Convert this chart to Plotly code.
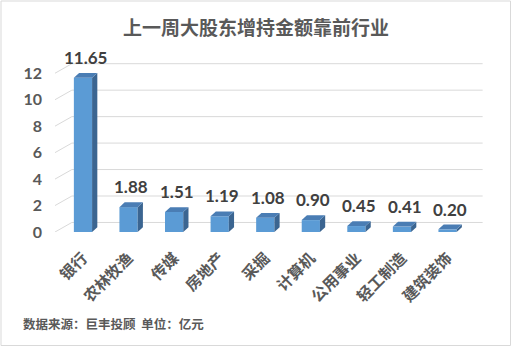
import plotly.graph_objects as go

categories = ["银行", "农林牧渔", "传媒", "房地产", "采掘", "计算机", "公用事业", "轻工制造", "建筑装饰"]
values = [11.65, 1.88, 1.51, 1.19, 1.08, 0.90, 0.45, 0.41, 0.20]
y_ticks = [0, 2, 4, 6, 8, 10, 12]
title_text = "上一周大股东增持金额靠前行业"
footer_text = "数据来源：巨丰投顾  单位：亿元"

FRONT = "#5B9BD5"
SIDE = "#3B6591"
TOP = "#4A7DB4"
GRID = "#D9D9D9"
TXT = "#595959"
FONT = "Lato, Noto Sans CJK SC, sans-serif"
CJK = "Noto Sans CJK SC, sans-serif"

WID, HEI = 512, 347
L, R, T, B = 55, 512 - 484, 60, 347 - 232
PW, PH = WID - L - R, HEI - T - B


def px_x(px):
    return (px - L) / PW


def px_y(py):
    return (HEI - B - py) / PH


W = 0.4          # bar width (category units)
DX = 0.115       # bar depth in x (category units)
DY = 0.36        # bar depth in y (value units)
WX = 0.37        # back wall offset in x
WY = 0.72        # back wall offset in y
X0, X1 = -0.614, 8.4
Y0, Y1 = 0, 13

xs = list(range(len(categories)))
fig = go.Figure()

# back-wall gridlines and side-wall diagonals
shapes = []
for v in y_ticks:
    shapes.append(dict(type="line", xref="x", yref="y", x0=X0 + WX, x1=X1 + WX,
                       y0=v + WY, y1=v + WY, line=dict(color=GRID, width=1), layer="below"))
    shapes.append(dict(type="line", xref="x", yref="y", x0=X0, x1=X0 + WX,
                       y0=v, y1=v + WY, line=dict(color=GRID, width=1), layer="below"))
shapes.append(dict(type="rect", xref="paper", yref="paper",
                   x0=px_x(1), x1=px_x(510.5), y0=px_y(345.5), y1=px_y(1),
                   line=dict(color="#D9D9D9", width=1)))

# front faces
fig.add_trace(go.Bar(x=xs, y=values, width=W, marker=dict(color=FRONT, line=dict(width=0)),
                     hoverinfo="skip"))

# side and top faces
for x, v in zip(xs, values):
    r = x + W / 2
    l = x - W / 2
    fig.add_trace(go.Scatter(x=[r, r + DX, r + DX, r, r], y=[0, DY, v + DY, v, 0],
                             mode="lines", fill="toself", fillcolor=SIDE,
                             line=dict(width=0, color=SIDE), hoverinfo="skip"))
    fig.add_trace(go.Scatter(x=[l, l + DX, r + DX, r, l], y=[v, v + DY, v + DY, v, v],
                             mode="lines", fill="toself", fillcolor=TOP,
                             line=dict(width=0, color=TOP), hoverinfo="skip"))

annotations = []
for x, v in zip(xs, values):
    annotations.append(dict(x=x + DX / 2, y=v + DY, xref="x", yref="y", text=f"{v:.2f}",
                            showarrow=False, yanchor="bottom", yshift=3,
                            font=dict(family=FONT, size=17, color="#404040", weight="bold")))
annotations.append(dict(xref="paper", yref="paper", x=px_x(256), y=px_y(26),
                        xanchor="center", yanchor="middle", text=title_text, showarrow=False,
                        font=dict(family=CJK, size=19, color=TXT, weight="bold")))
annotations.append(dict(xref="paper", yref="paper", x=px_x(21), y=px_y(323),
                        xanchor="left", yanchor="middle", text=footer_text, showarrow=False,
                        font=dict(family=CJK, size=12.5, color=TXT, weight="bold")))

fig.update_layout(
    width=WID, height=HEI,
    margin=dict(l=L, r=R, t=T, b=B),
    paper_bgcolor="white", plot_bgcolor="white",
    showlegend=False, shapes=shapes, annotations=annotations,
    xaxis=dict(range=[X0, X1 + 0.4], tickmode="array", tickvals=xs, ticktext=categories,
               tickangle=-45, showgrid=False, zeroline=False, showline=False,
               ticks="", ticklabelstandoff=13,
               tickfont=dict(family=CJK, size=15.5, color=TXT, weight="bold")),
    yaxis=dict(range=[Y0, Y1], tickmode="array", tickvals=y_ticks, showgrid=False,
               zeroline=False, showline=False, ticks="", ticklabelstandoff=12,
               tickfont=dict(family=FONT, size=16, color=TXT, weight="bold")),
)

fig.write_html("out.html")
